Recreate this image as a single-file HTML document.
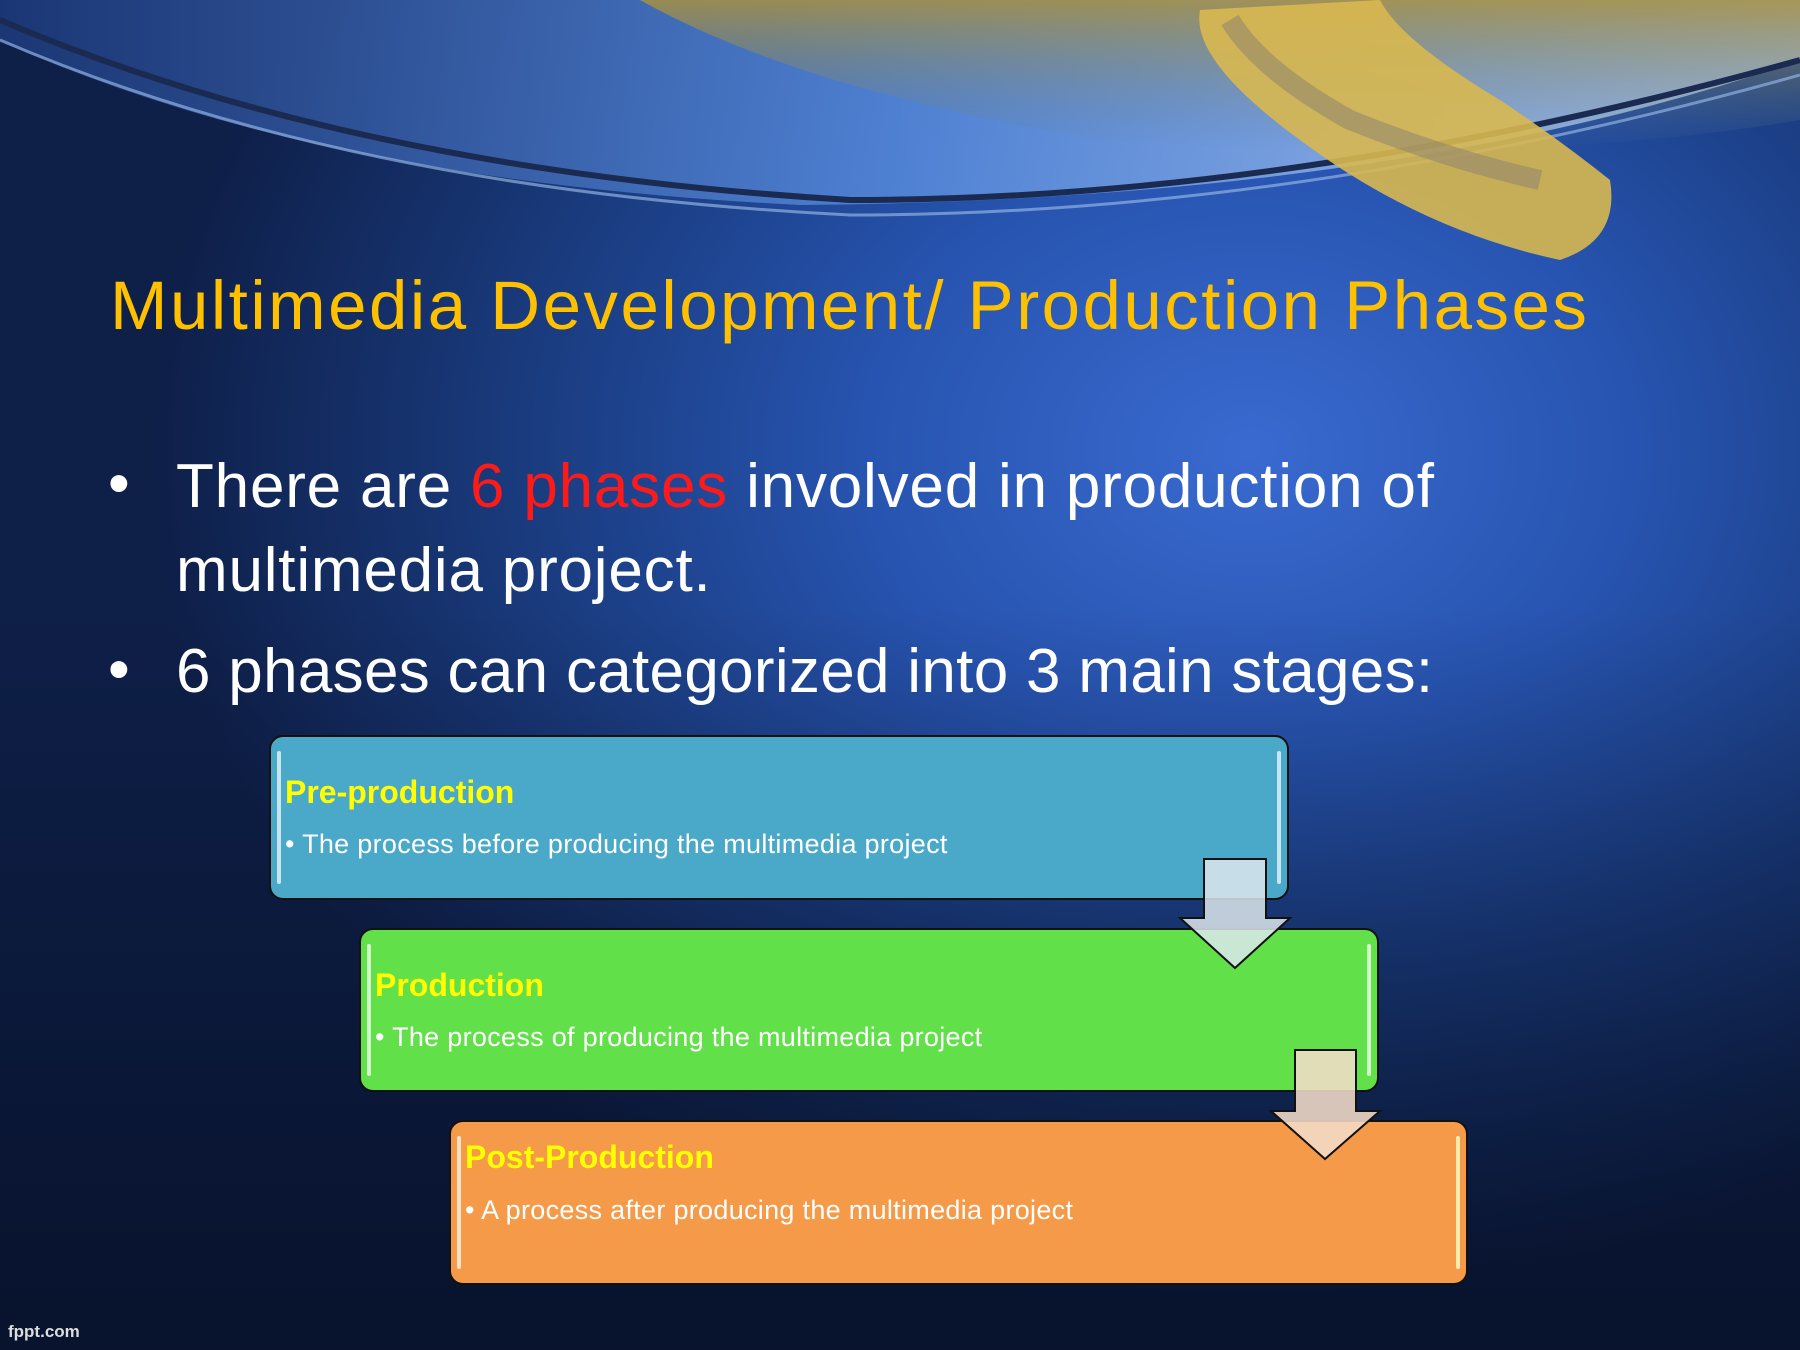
<!DOCTYPE html>
<html><head><meta charset="utf-8"><style>
body{margin:0;width:1800px;height:1350px;overflow:hidden;position:relative;font-family:"Liberation Sans",sans-serif;
background:radial-gradient(ellipse 1100px 850px at 1250px 450px,#3a6ad0 0%,#2754b0 35%,#1a3c80 65%,#0e1f48 100%);}
.bg2{position:absolute;left:0;top:0;width:1800px;height:1350px;background:linear-gradient(180deg,rgba(0,0,0,0) 45%,rgba(5,12,30,0.65) 100%);}
.t{position:absolute;white-space:nowrap;}
.box{position:absolute;border:2px solid #111;border-radius:14px;box-sizing:border-box;}
.hl{position:absolute;top:14px;bottom:14px;width:4px;border-radius:2px;background:rgba(255,255,255,0.7);}
.h{position:absolute;font-weight:bold;color:#ffff00;font-size:32px;}
.d{position:absolute;color:#fff;font-size:27px;letter-spacing:0.3px;}
</style></head><body>
<div class="bg2"></div>
<svg style="position:absolute;left:0;top:0" width="1800" height="330">
<defs><linearGradient id="g1" x1="0" y1="0" x2="1" y2="0"><stop offset="0" stop-color="#1e3c80"/><stop offset="0.5" stop-color="#5a8ee0"/><stop offset="1" stop-color="#c8dcf4"/></linearGradient>
<linearGradient id="tr" x1="0" y1="0" x2="0" y2="1"><stop offset="0" stop-color="#a89040"/><stop offset="1" stop-color="#5a80a0" stop-opacity="0"/></linearGradient></defs>
<path d="M0,0 L1800,0 L1800,60 Q1400,200 800,205 Q300,180 0,40 Z" fill="url(#g1)" opacity="0.8"/>
<path d="M640,0 L1800,0 L1800,120 Q1500,170 1100,140 Q800,90 640,0 Z" fill="url(#tr)" opacity="0.85"/>
<path d="M0,20 Q350,170 850,200 Q1300,200 1800,60" stroke="#1a2a50" stroke-width="6" fill="none"/>
<path d="M0,40 Q350,190 850,215 Q1300,215 1800,75" stroke="#8fb0e0" stroke-width="3" fill="none" opacity="0.7"/>
<path d="M1200,10 Q1190,60 1300,140 Q1420,230 1560,260 Q1620,240 1610,180 Q1560,140 1500,100 Q1400,40 1380,0 Z" fill="#d8b850" opacity="0.9"/>
<path d="M1230,20 Q1260,70 1350,120 Q1450,160 1540,180" stroke="#8a8070" stroke-width="20" fill="none" opacity="0.5"/>
</svg>
<div class="t" style="left:110px;top:266px;font-size:69px;letter-spacing:2.5px;color:#ffc000;">Multimedia Development/ Production Phases</div>
<div class="t" style="left:108px;top:448px;font-size:62px;color:#fff;">•</div>
<div class="t" style="left:176px;top:451px;font-size:62px;letter-spacing:0.8px;color:#fff;">There are <span style="color:#ff1a1a">6 phases</span> involved in production of</div>
<div class="t" style="left:176px;top:535px;font-size:62px;letter-spacing:0.8px;color:#fff;">multimedia project.</div>
<div class="t" style="left:108px;top:634px;font-size:62px;color:#fff;">•</div>
<div class="t" style="left:176px;top:636px;font-size:62px;letter-spacing:0.3px;color:#fff;">6 phases can categorized into 3 main stages:</div>

<div class="box" style="left:269px;top:735px;width:1020px;height:165px;background:#4aa8c8;"><div class="hl" style="left:6px"></div><div class="hl" style="right:6px"></div></div>
<div class="h" style="left:285px;top:774px">Pre-production</div>
<div class="d" style="left:285px;top:829px">• The process before producing the multimedia project</div>

<div class="box" style="left:359px;top:928px;width:1020px;height:164px;background:#62e04a;"><div class="hl" style="left:6px"></div><div class="hl" style="right:6px"></div></div>
<div class="h" style="left:375px;top:967px">Production</div>
<div class="d" style="left:375px;top:1022px">• The process of producing the multimedia project</div>

<div class="box" style="left:449px;top:1120px;width:1019px;height:165px;background:#f59a48;"><div class="hl" style="left:6px"></div><div class="hl" style="right:6px;background:rgba(255,255,200,0.8)"></div></div>
<div class="h" style="left:465px;top:1139px">Post-Production</div>
<div class="d" style="left:465px;top:1195px">• A process after producing the multimedia project</div>

<svg style="position:absolute;left:0;top:0" width="1800" height="1350">
<polygon points="1204,859 1266,859 1266,918 1290,918 1235,968 1180,918 1204,918" fill="#dde6ec" fill-opacity="0.85" stroke="#111" stroke-width="2"/>
<polygon points="1295,1050 1356,1050 1356,1111 1380,1111 1325,1159 1271,1111 1295,1111" fill="#f4dcc8" fill-opacity="0.88" stroke="#111" stroke-width="2"/>
</svg>
<div class="t" style="left:8px;top:1322px;font-size:17px;font-weight:bold;color:#ddd;">fppt.com</div>
</body></html>
